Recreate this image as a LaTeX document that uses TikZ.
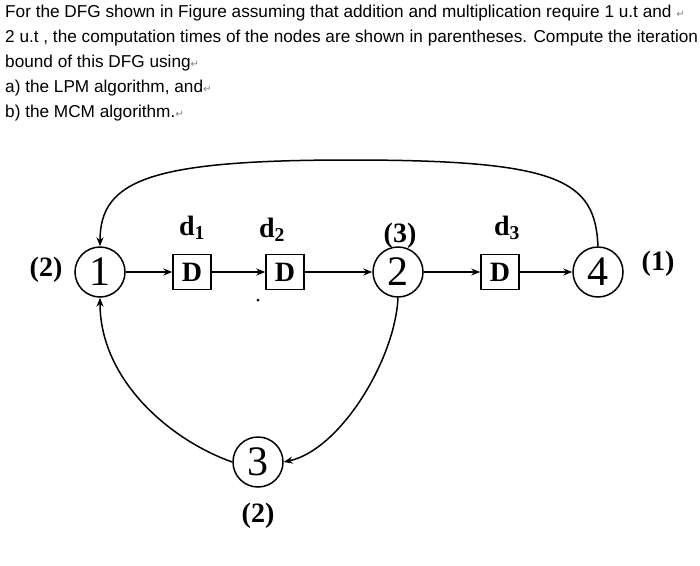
\documentclass[tikz,border=0pt]{standalone}
\usepackage{fontspec}
\setmainfont{Liberation Serif}
\setsansfont{Liberation Sans}
\newfontfamily\djv{DejaVu Sans}
\usetikzlibrary{arrows.meta}
\newcommand{\rt}{{\djv\fontsize{10}{10}\selectfont\color{gray}↵}}
\begin{document}
\begin{tikzpicture}[x=1pt,y=-1pt,
  txt/.style={anchor=west,inner sep=0,font=\sffamily\fontsize{17.2}{19}\selectfont},
  circ/.style={draw,circle,line width=1.5pt,minimum size=50,inner sep=0,font=\fontsize{42}{42}\selectfont},
  dbox/.style={draw,line width=1.5pt,minimum width=38,minimum height=35,inner sep=0,font=\fontsize{28}{28}\selectfont\bfseries},
  lab/.style={inner sep=0,font=\fontsize{28}{28}\selectfont\bfseries},
  arr/.style={line width=1.5pt,-{Stealth[length=9pt,width=7pt]}}]
\useasboundingbox (0,0) rectangle (700,565);
\node[txt] (t1) at (5,13) {For the DFG shown in Figure assuming that addition and multiplication require 1 u.t and \rt};
\node[txt] (t2) at (5,38) {2 u.t , the computation times of the nodes are shown in parentheses. Compute the iteration};
\node[txt] (t3) at (5,63) {bound of this DFG using\rt};
\node[txt] (t4) at (5,88) {a) the LPM algorithm, and\rt};
\node[txt] (t5) at (5,113) {b) the MCM algorithm.\rt};
\node[circ] (n1) at (100,272) {1};
\node[dbox] (D1) at (192,272) {D};
\node[dbox] (D2) at (285,272) {D};
\node[circ] (n2) at (398,272) {2};
\node[dbox] (D3) at (500,272) {D};
\node[circ] (n4) at (598,272) {4};
\node[circ] (n3) at (258,462) {3};
\node[lab] (l1) at (46,270) {(2)};
\node[lab] (ld1) at (192,228) {d$_{\mathbf 1}$};
\node[lab] (ld2) at (272,230) {d$_{\mathbf 2}$};
\node[lab] (l2) at (400,236) {(3)};
\node[lab] (ld3) at (507,228) {d$_{\mathbf 3}$};
\node[lab] (l4) at (658,264) {(1)};
\node[lab] (l3) at (258,516) {(2)};
\fill (258,300) circle (1.5);
\draw[arr] (n1) -- (D1);
\draw[arr] (D1) -- (D2);
\draw[arr] (D2) -- (n2);
\draw[arr] (n2) -- (D3);
\draw[arr] (D3) -- (n4);
\draw[arr] (n4.north) .. controls (595,180) and (560,160) .. (350,160) .. controls (150,160) and (100,180) .. (n1.north);
\draw[arr] (n2.south) .. controls (395,360) and (340,450) .. (n3.east);
\draw[arr] (n3.west) .. controls (170,440) and (100,380) .. (n1.south);
\end{tikzpicture}
\end{document}
